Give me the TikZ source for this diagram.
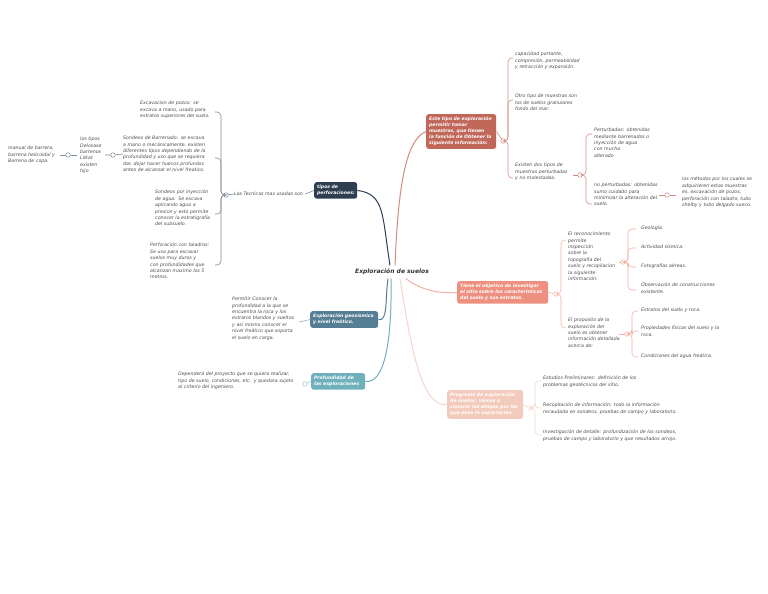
\documentclass[tikz,border=0pt]{standalone}
\usepackage{fontspec}
\setmainfont{DejaVu Sans}
\hyphenpenalty=10000
\exhyphenpenalty=10000
\begin{document}
\begin{tikzpicture}[x=1pt,y=-1pt,
  leaf/.style={font=\fontsize{4.7}{6.4}\selectfont\itshape, text=black!70, inner sep=0pt, align=left, anchor=north west},
  hub/.style={rounded corners=2.5pt, text=white, font=\fontsize{4.6}{6}\selectfont\itshape\bfseries, align=left, inner sep=3pt, anchor=north west},
  dot/.style={circle, draw=#1, fill=white, inner sep=0pt, minimum size=4.5pt, line width=0.5pt},
  br/.style={draw=#1, line width=0.6pt, rounded corners=4pt},
  conn/.style={draw=#1, line width=1pt}]
\useasboundingbox (0,0) rectangle (768,594);
\definecolor{cA}{HTML}{2C3E50}\definecolor{cB}{HTML}{557D93}\definecolor{cC}{HTML}{6FB0BC}
\definecolor{cD}{HTML}{C0675A}\definecolor{cE}{HTML}{EE9080}\definecolor{cF}{HTML}{F3CBBC}
\definecolor{lA}{HTML}{7F8C99}\definecolor{lD}{HTML}{D08B80}\definecolor{lE}{HTML}{F2B0A5}\definecolor{lF}{HTML}{F3D6CA}

\node[font=\fontsize{6}{7}\selectfont\itshape\bfseries, text=black!80] (c) at (392,272) {Exploración de suelos};

% hubs
\node[hub, fill=cA, text width=37pt] (A) at (314,182) {tipos de\\perforaciones:};
\node[hub, fill=cB, text width=62pt] (B) at (310,311) {Exploración geosísmica y nivel freático.};
\node[hub, fill=cC, text width=48pt] (C) at (311,373) {Profundidad de las exploraciones};
\node[hub, fill=cD, text width=64pt] (D) at (426,114) {Este tipo de exploración permitir tomar muestras, que tienen la función de Obtener la siguiente información:};
\node[hub, fill=cE, text width=85pt] (E) at (457,281) {Tiene el objetivo de investigar el sitio sobre las características del suelo y sus estratos.};
\node[hub, fill=cF, text width=70pt] (F) at (447,390) {Programa de exploración de suelos: vamos a conocer las etapas por las que pasa la exploración.};

\draw[conn=cA] (c.north) ++(-2,0) .. controls (382,215) and (385,194) .. (A.east);
\draw[conn=cB] (c.south) ++(-4,0) .. controls (385,300) and (388,322) .. (B.east);
\draw[conn=cC] (c.south) ++(-1,0) .. controls (392,340) and (385,384) .. (C.east);
\draw[conn=lD] (c.north) ++(3,0) .. controls (398,190) and (405,140) .. (D.west);
\draw[conn=lE] (c.south) ++(14,0) .. controls (420,290) and (440,294) .. (E.west);
\draw[conn=lF] (c.south) ++(8,0) .. controls (410,340) and (420,408) .. (F.west);

% --- A branch
\node[leaf] (Ah) at (234,192) {Las Tecnicas mas usadas son};
\draw[draw=lA, line width=0.6pt] (Ah.east) ++(2,0) -- (A.west);
\node[dot=lA] (Ad) at (226,195) {};
\draw[draw=lA, line width=0.6pt] (Ah.west) -- (Ad);
\node[leaf, text width=72pt] (A1) at (140,101) {Excavacion de pozos: se excava a mano, usado para estratos superiores del suelo.};
\node[leaf, text width=90pt] (A2) at (123,136) {Sondeos de Barrenado: se excava a mano o mecánicamente, existen diferentes tipos dependiendo de la profundidad y uso que se requiera dar, dejar hacer huecos profundos antes de alcanzar el nivel freatico.};
\node[leaf, text width=58pt] (A3) at (155,190) {Sondeos por inyección de agua: Se excava aplicando agua a presion y esto permite conocer la estratigrafía del subsuelo.};
\node[leaf, text width=62pt] (A4) at (150,243) {Perforación con taladros: Se usa para excavar suelos muy duros y con profundidades que alcanzan maximo los 5 metros.};
\foreach \y in {112,158,214,265} \draw[br=lA] (Ad.west) -- (221,195) -- (221,\y) -- (215,\y);
\node[dot=lA] (Ad2) at (113,155) {};
\draw[draw=lA, line width=0.6pt] (A2.west) -- (Ad2) -- (105,155);
\node[leaf, text width=24pt] (A5) at (80,137) {los tipos Delosase barrenos Lilkat existen hijo};
\node[dot=lA] (Ad3) at (68,155) {};
\draw[draw=lA, line width=0.6pt] (77,155) -- (Ad3) -- (60,155);
\node[leaf, text width=52pt] (A6) at (8,146) {manual de barrera, barrena helicoidal y Barrena de copa.};

% --- B, C
\node[leaf, text width=66pt] (B1) at (232,297) {Permitir Conocer la profundidad a la que se encuentra la roca y los estratos blandos y sueltos y así mismo conocer el nivel freático que soporta el suelo en carga.};
\draw[draw=cB!60, line width=0.6pt] (B.west) -- (299,322);
\node[leaf, text width=124pt] (C1) at (178,372) {Dependerá del proyecto que se quiera realizar, tipo de suelo, condiciones, etc. y quedara sujeto al criterio del ingeniero.};
\node[dot=cC!70] (Cd) at (305,384) {};
\draw[draw=cC!70, line width=0.6pt] (C.west) -- (Cd);

% --- D branch
\node[dot=lD] (Dd) at (503,141) {};
\draw[draw=lD, line width=0.6pt] (D.east) -- (Dd);
\node[leaf, text width=70pt] (D1) at (515,52) {capacidad portante, compresión, permeabilidad y retracción y expansión.};
\node[leaf, text width=64pt] (D2) at (515,94) {Otro tipo de muestras son los de suelos granulares fondo del mar.};
\node[leaf, text width=58pt] (D3) at (515,163) {Existen dos tipos de muestras perturbadas y no molestadas.};
\foreach \y in {58,100,178} \draw[br=lD] (Dd.east) -- (508,141) -- (508,\y) -- (513,\y);
\node[dot=lD] (Dd2) at (580,175) {};
\draw[draw=lD, line width=0.6pt] (573,175) -- (Dd2);
\node[leaf, text width=62pt] (D4) at (594,128) {Perturbadas: obtenidas mediante barrenados o inyección de agua\\con mucha\\alterado};
\node[leaf, text width=64pt] (D5) at (594,183) {no perturbadas: obtenidas sumo cuidado para minimizar la alteración del suelo.};
\foreach \y in {134,204} \draw[br=lD] (Dd2.east) -- (586,175) -- (586,\y) -- (592,\y);
\node[dot=lD] (Dd3) at (667,195) {};
\draw[draw=lD, line width=0.6pt] (659,195) -- (Dd3) -- (676,195);
\node[leaf, text width=72pt] (D6) at (682,177) {los métodos por los cuales se adquirieren estas muestras es, excavación de pozos, perforación con taladro, tubo shelby y tubo delgado sueco.};

% --- E branch
\node[dot=lE] (Ed) at (556,294) {};
\draw[draw=lE, line width=0.6pt] (E.east) -- (Ed);
\node[leaf, text width=52pt] (E1) at (568,232) {El reconocimiento permite\\inspección\\sobre la\\topografía del suelo y recopilacion la siguiente información:};
\node[leaf, text width=52pt] (E2) at (568,318) {El proposito de la exploración del suelo es obtener información detallada acerca de:};
\foreach \y in {240,328} \draw[br=lE] (Ed.east) -- (561,294) -- (561,\y) -- (566,\y);
\node[dot=lE] (Ed2) at (623,262) {};
\draw[draw=lE, line width=0.6pt] (619,262) -- (Ed2);
\node[leaf] (E3) at (641,226) {Geología.};
\node[leaf] (E4) at (641,245) {Actividad sísmica.};
\node[leaf] (E5) at (641,264) {Fotografías aéreas.};
\node[leaf, text width=82pt] (E6) at (641,283) {Observación de construcciones existente.};
\foreach \y in {229,248,267,290} \draw[br=lE] (Ed2.east) -- (628,262) -- (628,\y) -- (636,\y);
\node[dot=lE] (Ed3) at (627,334) {};
\draw[draw=lE, line width=0.6pt] (619,334) -- (Ed3);
\node[leaf] (E7) at (641,308) {Estratos del suelo y roca.};
\node[leaf, text width=84pt] (E8) at (641,326) {Propiedades físicas del suelo y la roca.};
\node[leaf] (E9) at (641,354) {Condiciones del agua freática.};
\foreach \y in {311,331,357} \draw[br=lE] (Ed3.east) -- (632,334) -- (632,\y) -- (638,\y);

% --- F branch
\node[dot=lF] (Fd) at (530,408) {};
\draw[draw=lF, line width=0.6pt] (F.east) -- (Fd);
\node[leaf, text width=110pt] (F1) at (543,376) {Estudios Preliminares: definición de los problemas geotécnicos del sitio.};
\node[leaf, text width=142pt] (F2) at (543,403) {Recopilación de información: todo la información recaudada en sondeos, pruebas de campo y laboratorio.};
\node[leaf, text width=152pt] (F3) at (543,430) {Investigación de detalle: profundización de los sondeos, pruebas de campo y laboratorio y que resultados arrojo.};
\foreach \y in {381,408,435} \draw[br=lF] (Fd.east) -- (535,408) -- (535,\y) -- (541,\y);
\end{tikzpicture}
\end{document}
